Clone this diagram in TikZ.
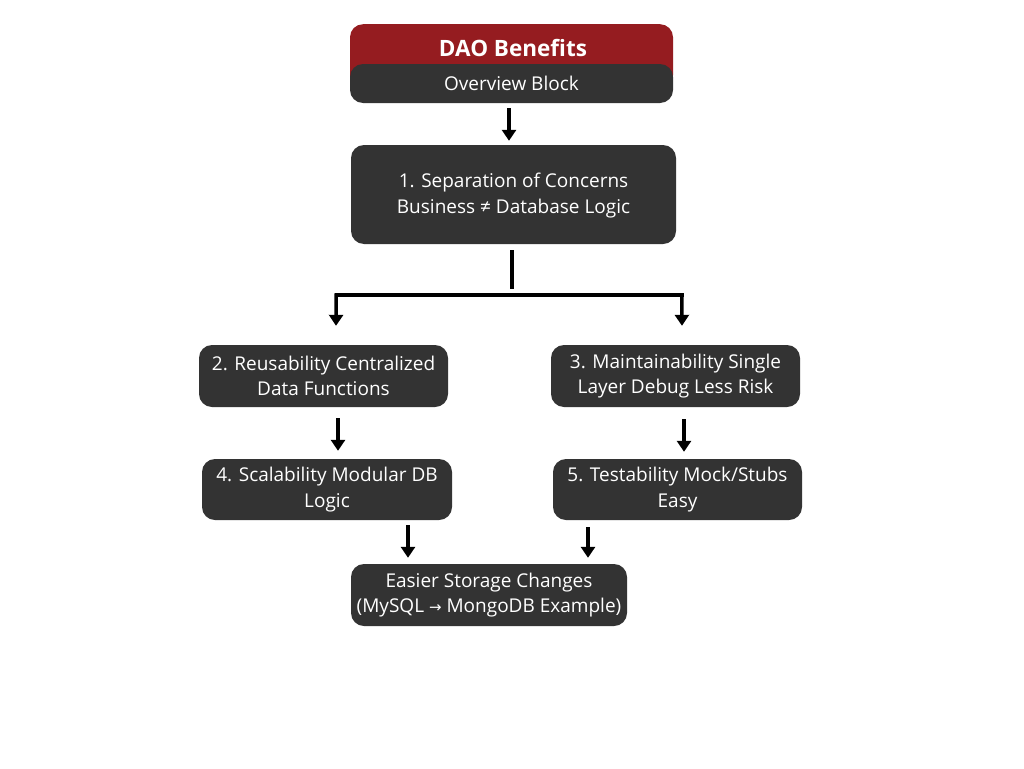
\documentclass[tikz,border=0pt]{standalone}
\usepackage{fontspec}
\setmainfont{Open Sans}
\newfontfamily\symfont{DejaVu Sans}
\usetikzlibrary{arrows.meta,calc}
\definecolor{hdrred}{HTML}{951C20}
\definecolor{boxdark}{HTML}{333333}
\begin{document}
\begin{tikzpicture}[x=1pt,y=-1pt,
  box/.style={draw=none,fill=boxdark,rounded corners=13pt,text=white,align=center,inner sep=0pt,font=\fontsize{19}{25.5}\selectfont},
  arr/.style={line width=3.5pt,-{Triangle[width=14pt,length=11pt]}},
  ln/.style={line width=3.5pt}]
\useasboundingbox[fill=white] (0,0) rectangle (1024,768);
% header
\node[box,fill=hdrred,minimum width=323pt,minimum height=64pt,anchor=north] (hdr) at (511.5,24) {};
\node[font=\bfseries\fontsize{22.5}{26}\selectfont,text=white] (ttl) at (513,48) {DAO Benefits};
\node[box,minimum width=323pt,minimum height=39pt] (ovr) at (511.5,83.5) {Overview Block};
% boxes
\node[box,minimum width=325pt,minimum height=99pt,text depth=3pt] (b1) at (513.5,194.5) {1. Separation of Concerns\\Business ≠ Database Logic};
\node[box,minimum width=249pt,minimum height=62pt] (b2) at (323.5,376) {2. Reusability Centralized\\Data Functions};
\node[box,minimum width=249pt,minimum height=62pt] (b3) at (675.5,376) {3. Maintainability Single\\Layer Debug Less Risk};
\node[box,minimum width=250pt,minimum height=61pt] (b4) at (327,489.5) {4. Scalability Modular DB\\Logic};
\node[box,minimum width=249pt,minimum height=61pt] (b5) at (677.5,489.5) {5. Testability Mock/Stubs\\Easy};
\node[box,minimum width=276pt,minimum height=62pt] (b6) at (489,595) {Easier Storage Changes\\(MySQL {\symfont\fontsize{15}{25.5}\selectfont →} MongoDB Example)};
% connectors
\coordinate (j) at (512,289);
\coordinate (hl) at (334.5,295);
\coordinate (hr) at (683.5,295);
\draw[arr] ($(ovr.south)+(-2.5,5)$) -- ($(b1.north)+(-4.5,-4)$);
\draw[ln] ($(b1.south)+(-1.5,6)$) -- (j);
\draw[ln] (hl) -- (hr);
\draw[arr] ($(hl)+(1.75,-1.75)$) -- ($(b2.north)+(12.5,-19)$);
\draw[arr] ($(hr)+(-1.75,-1.75)$) -- ($(b3.north)+(6.5,-19)$);
\draw[arr] ($(b2.south)+(14.5,11)$) -- ($(b4.north)+(11,-8)$);
\draw[arr] ($(b3.south)+(8.5,12)$) -- ($(b5.north)+(6.5,-7)$);
\draw[arr] ($(b4.south)+(81,5)$) -- ($(b6.north)+(-81,-6)$);
\draw[arr] ($(b5.south)+(-89.5,7)$) -- ($(b6.north)+(99,-6)$);
\end{tikzpicture}
\end{document}
